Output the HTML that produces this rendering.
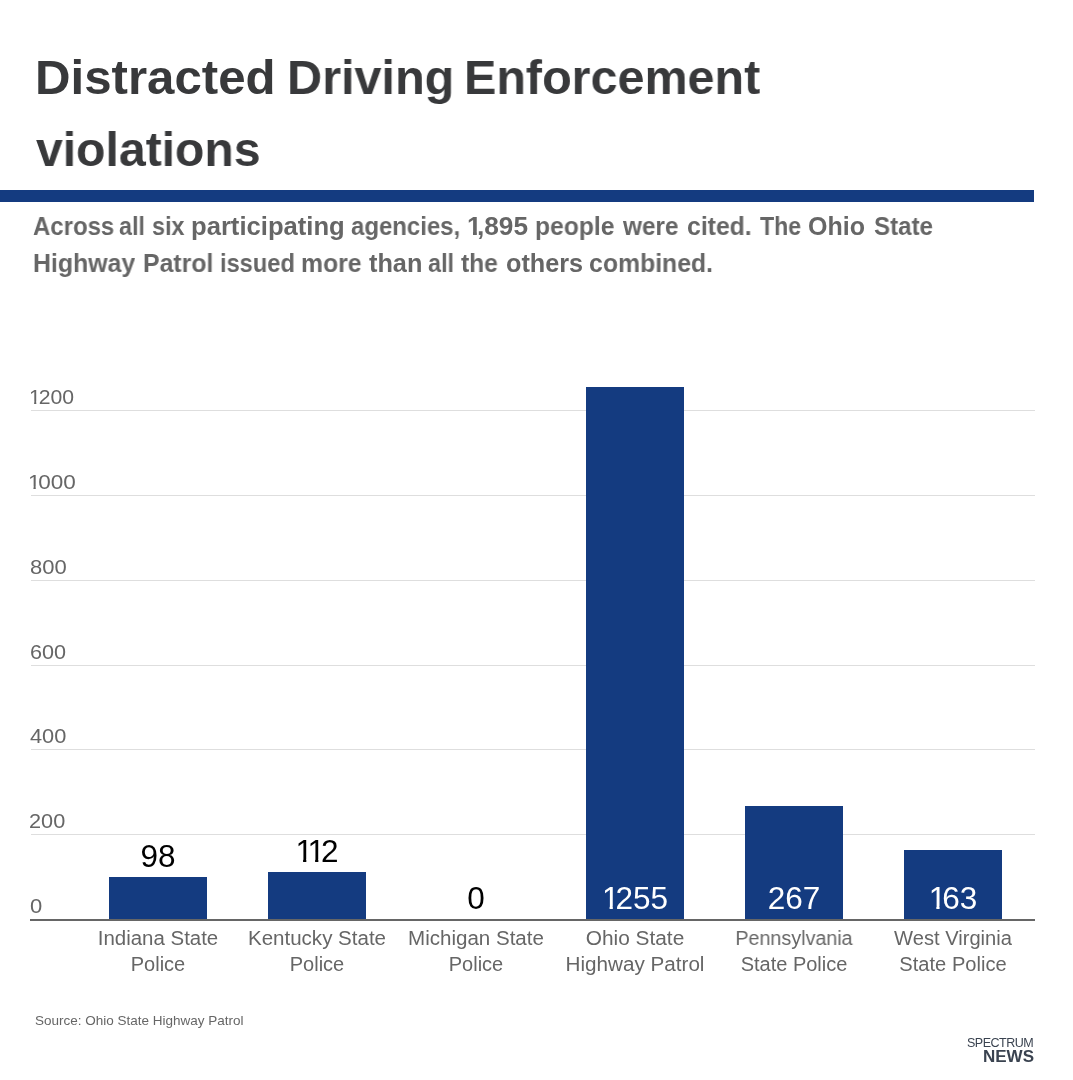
<!DOCTYPE html>
<html><head><meta charset="utf-8">
<style>
html,body{margin:0;padding:0;background:#fff;}
body{width:1073px;height:1080px;position:relative;overflow:hidden;-webkit-font-smoothing:antialiased;font-family:"Liberation Sans",sans-serif;}
.a{position:absolute;white-space:nowrap;line-height:1;will-change:transform;}
.title{font-weight:700;font-size:49px;color:#38393b;transform-origin:0 0;}
.rule{position:absolute;left:0;top:190px;width:1034px;height:12px;background:#143b80;}
.sub{font-weight:700;font-size:25px;color:#666;transform-origin:0 0;}
.yl{font-size:20px;color:#666;transform-origin:0 0;}
.grid{position:absolute;left:31px;width:1004px;height:1px;background:#dedede;}
.base{position:absolute;left:30px;top:919px;width:1005px;height:2px;background:#666;}
.bar{position:absolute;width:98px;background:#143b80;}
.val{font-size:31.5px;width:98px;text-align:center;}
.cat{font-size:20px;color:#666;width:200px;text-align:center;line-height:26px;}
.src{font-size:13.5px;color:#666;left:35px;}
.o1{display:inline-block;clip-path:polygon(-10% -10%,110% -10%,110% 73%,62% 73%,62% 110%,43.5% 110%,43.5% 73%,-10% 73%);}
.b1{display:inline-block;clip-path:polygon(-10% -10%,110% -10%,110% 71%,67.5% 71%,67.5% 110%,41% 110%,41% 71%,-10% 71%);}
</style></head><body>
<div class="a title" style="left:35.0px;top:52.6px;transform:scaleX(1.0042)">Distracted</div>
<div class="a title" style="left:287.0px;top:52.6px;transform:scaleX(0.9916)">Driving</div>
<div class="a title" style="left:464.1px;top:52.6px;transform:scaleX(0.9889)">Enforcement</div>
<div class="a title" style="left:36.3px;top:125.2px;transform:scaleX(0.9817)">violations</div>
<div class="a sub" style="left:32.7px;top:213.8px;transform:scaleX(0.9587)">Across</div>
<div class="a sub" style="left:119.4px;top:213.8px;transform:scaleX(0.9348)">all</div>
<div class="a sub" style="left:151.5px;top:213.8px;transform:scaleX(0.9354)">six</div>
<div class="a sub" style="left:190.8px;top:213.8px;transform:scaleX(1.0248)">participating</div>
<div class="a sub" style="left:350.9px;top:213.8px;transform:scaleX(0.9583)">agencies,</div>
<div class="a sub" style="left:466.7px;top:213.8px;transform:scaleX(1.0496)"><span class="b1" style="margin-right:-4.4px">1</span>,895</div>
<div class="a sub" style="left:534.5px;top:213.8px;transform:scaleX(0.9854)">people</div>
<div class="a sub" style="left:623.4px;top:213.8px;transform:scaleX(0.9745)">were</div>
<div class="a sub" style="left:686.7px;top:213.8px;transform:scaleX(0.9915)">cited.</div>
<div class="a sub" style="left:759.6px;top:213.8px;transform:scaleX(0.9250)">The</div>
<div class="a sub" style="left:807.5px;top:213.8px;transform:scaleX(0.9917)">Ohio</div>
<div class="a sub" style="left:873.5px;top:213.8px;transform:scaleX(0.9636)">State</div>
<div class="a sub" style="left:33.1px;top:250.8px;transform:scaleX(0.9942)">Highway</div>
<div class="a sub" style="left:142.8px;top:250.8px;transform:scaleX(0.9912)">Patrol</div>
<div class="a sub" style="left:219.6px;top:250.8px;transform:scaleX(0.9450)">issued</div>
<div class="a sub" style="left:300.6px;top:250.8px;transform:scaleX(0.9896)">more</div>
<div class="a sub" style="left:368.7px;top:250.8px;transform:scaleX(1.0117)">than</div>
<div class="a sub" style="left:428.4px;top:250.8px;transform:scaleX(0.9386)">all</div>
<div class="a sub" style="left:461.3px;top:250.8px;transform:scaleX(0.9841)">the</div>
<div class="a sub" style="left:506.0px;top:250.8px;transform:scaleX(1.0093)">others</div>
<div class="a sub" style="left:589.3px;top:250.8px;transform:scaleX(0.9922)">combined.</div>
<div class="rule"></div>

<div class="grid" style="top:410px"></div>
<div class="grid" style="top:495px"></div>
<div class="grid" style="top:580px"></div>
<div class="grid" style="top:665px"></div>
<div class="grid" style="top:749px"></div>
<div class="grid" style="top:834px"></div>

<div class="a yl" style="top:387px;left:28.5px;transform:scaleX(1.06)"><span class="o1" style="margin-right:-2px">1</span>200</div>
<div class="a yl" style="top:472px;left:28.4px;transform:scaleX(1.125)"><span class="o1" style="margin-right:-2px">1</span>000</div>
<div class="a yl" style="top:557px;left:29.9px;transform:scaleX(1.10)">800</div>
<div class="a yl" style="top:642px;left:30.2px;transform:scaleX(1.08)">600</div>
<div class="a yl" style="top:726px;left:30.3px;transform:scaleX(1.09)">400</div>
<div class="a yl" style="top:811px;left:29.3px;transform:scaleX(1.085)">200</div>
<div class="a yl" style="top:896px;left:30px;transform:scaleX(1.1)">0</div>

<div class="bar" style="left:109px;top:877px;height:42px"></div>
<div class="bar" style="left:268px;top:872px;height:47px"></div>
<div class="bar" style="left:586px;top:387px;height:532px"></div>
<div class="bar" style="left:745px;top:806px;height:113px"></div>
<div class="bar" style="left:904px;top:850px;height:69px"></div>
<div class="base"></div>

<div class="a val" style="left:109px;top:841px;color:#000">98</div>
<div class="a val" style="left:268px;top:836px;color:#000"><span class="o1" style="margin-right:-5.5px">1</span><span class="o1" style="margin-right:-4px">1</span>2</div>
<div class="a val" style="left:427px;top:883px;color:#000">0</div>
<div class="a val" style="left:586px;top:883px;color:#fff"><span class="o1" style="margin-right:-4px">1</span>255</div>
<div class="a val" style="left:745px;top:883px;color:#fff">267</div>
<div class="a val" style="left:904px;top:883px;color:#fff"><span class="o1" style="margin-right:-4px">1</span>63</div>

<div class="a cat" style="left:58px;top:924.8px;transform:scaleX(1.022)">Indiana State</div>
<div class="a cat" style="left:58px;top:951.3px;transform:scaleX(1.0)">Police</div>
<div class="a cat" style="left:217px;top:924.8px;transform:scaleX(1.026)">Kentucky State</div>
<div class="a cat" style="left:217px;top:951.3px;transform:scaleX(1.0)">Police</div>
<div class="a cat" style="left:376px;top:924.8px;transform:scaleX(1.027)">Michigan State</div>
<div class="a cat" style="left:376px;top:951.3px;transform:scaleX(1.0)">Police</div>
<div class="a cat" style="left:535px;top:924.8px;transform:scaleX(1.043)">Ohio State</div>
<div class="a cat" style="left:535px;top:951.3px;transform:scaleX(1.033)">Highway Patrol</div>
<div class="a cat" style="left:694px;top:924.8px;transform:scaleX(0.986)">Pennsylvania</div>
<div class="a cat" style="left:694px;top:951.3px;transform:scaleX(1.0)">State Police</div>
<div class="a cat" style="left:853px;top:924.8px;transform:scaleX(1.007)">West Virginia</div>
<div class="a cat" style="left:853px;top:951.3px;transform:scaleX(1.005)">State Police</div>

<div class="a src" style="top:1014px">Source: Ohio State Highway Patrol</div>
<div class="a" style="right:40px;top:1037px;font-size:12.5px;letter-spacing:-0.5px;color:#3a4350">SPECTRUM</div>
<div class="a" style="left:983px;top:1048px;font-size:17px;font-weight:700;color:#3a4350">NEWS</div>
</body></html>
